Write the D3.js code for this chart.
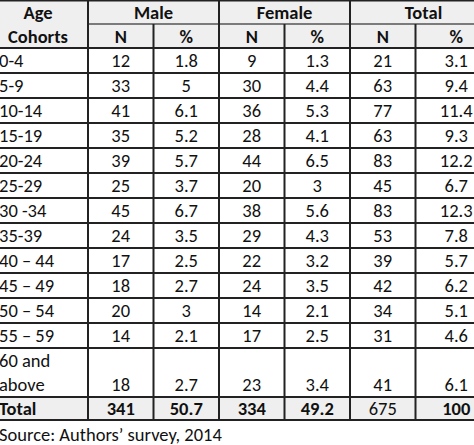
<!DOCTYPE html>
<html><head><meta charset="utf-8">
<script src="https://cdn.jsdelivr.net/npm/d3@7"></script>
<style>body{margin:0;background:#fff;overflow:hidden}</style>
</head><body><svg id="t" width="474" height="445"></svg>
<script>
const cohorts = ["0-4","5-9","10-14","15-19","20-24","25-29","30 -34","35-39","40 – 44","45 – 49","50 – 54","55 – 59","60 and|above"];
const maleN = ["12","33","41","35","39","25","45","24","17","18","20","14","18"];
const malePct = ["1.8","5","6.1","5.2","5.7","3.7","6.7","3.5","2.5","2.7","3","2.1","2.7"];
const femaleN = ["9","30","36","28","44","20","38","29","22","24","14","17","23"];
const femalePct = ["1.3","4.4","5.3","4.1","6.5","3","5.6","4.3","3.2","3.5","2.1","2.5","3.4"];
const totalN = ["21","63","77","63","83","45","83","53","39","42","34","31","41"];
const totalPct = ["3.1","9.4","11.4","9.3","12.2","6.7","12.3","7.8","5.7","6.2","5.1","4.6","6.1"];
const groups = ["Male","Female","Total"];
const subHeads = ["N","%","N","%","N","%"];
const totals = ["341","50.7","334","49.2","675","100"];
const totalsBold = [true,true,true,true,false,true];
const source = "Source: Authors’ survey, 2014";

const svg = d3.select("#t");
const font = "Carlito, Calibri, 'Open Sans', sans-serif";
const cols = d3.range(6);
const x = d3.scaleBand().domain(cols).range([88, 481]);
const y = d3.scaleLinear().domain([0, 2]).range([0, 48]);
const yd = d3.scaleLinear().domain([0, 12]).range([48, 348]);
const rowTop = i => i < 12 ? yd(i) : 348;
const rowBot = i => i < 12 ? yd(i + 1) : 397;
const totTop = 397, totBot = 420;
const cx = c => x(c) + x.bandwidth() / 2 + (c === 5 ? 8 : 0);

// shaded header & total
svg.append("rect").attr("x", 0).attr("y", 0).attr("width", 474).attr("height", y(2)).attr("fill", "#efefef");
svg.append("rect").attr("x", 0).attr("y", totTop).attr("width", 474).attr("height", totBot - totTop).attr("fill", "#efefef");

const txt = (t, xx, yy, anchor, bold) => svg.append("text").attr("x", xx).attr("y", yy)
  .attr("text-anchor", anchor).attr("font-family", font).attr("font-size", 18.5)
  .attr("font-weight", bold ? "bold" : "normal").attr("fill", "#111").text(t);

txt("Age", 38, 19, "middle", true);
txt("Cohorts", 38, 43, "middle", true);
groups.forEach((g, i) => txt(g, x(2 * i) + x.bandwidth() + (i === 2 ? 8 : 0), 19, "middle", true));
subHeads.forEach((s, c) => txt(s, cx(c), 43, "middle", true));

const data = cohorts.map((name, i) => [maleN[i], malePct[i], femaleN[i], femalePct[i], totalN[i], totalPct[i]]);
cohorts.forEach((name, i) => {
  const parts = name.split("|");
  if (parts.length > 1) {
    txt(parts[0], -1, rowTop(i) + 19, "start", false);
    txt(parts[1], -1, rowBot(i) - 6, "start", false);
  } else txt(name, -1, rowBot(i) - 6, "start", false);
  data[i].forEach((v, c) => txt(v, cx(c), rowBot(i) - 6, "middle", false));
});
txt("Total", -1, totBot - 5, "start", true);
totals.forEach((v, c) => txt(v, cx(c), totBot - 5, "middle", totalsBold[c]));
txt(source, -1, 441, "start", false);

// lines
const line = (x1, y1, x2, y2, w, col) => svg.append("line").attr("x1", x1).attr("y1", y1)
  .attr("x2", x2).attr("y2", y2).attr("stroke", col || "#222").attr("stroke-width", w);
line(0, 0.5, 474, 0.5, 2);
line(x(0), y(1), 474, y(1), 1.5, "#555");
line(0, y(2), 474, y(2), 2);
d3.range(13).forEach(i => line(0, rowBot(i), 474, rowBot(i), 1.8));
line(0, totBot, 474, totBot, 2);
cols.forEach(c => line(x(c), c % 2 === 0 ? 0 : y(1), x(c), totBot, 2));
</script></body></html>
